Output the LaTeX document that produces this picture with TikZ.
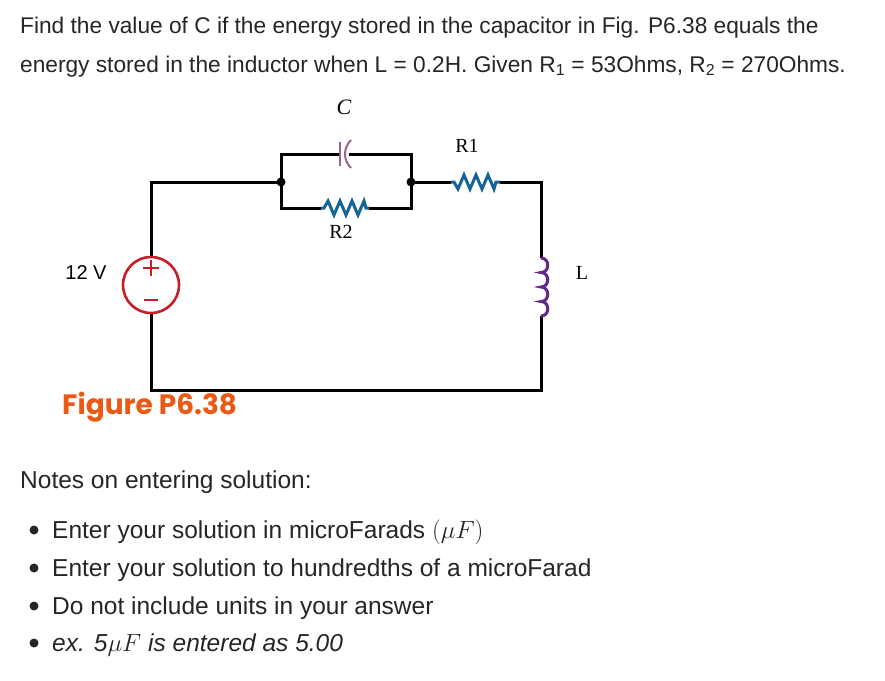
\documentclass[tikz,border=0pt]{standalone}
\usepackage{fontspec}
\setmainfont{Liberation Sans}
\newfontfamily\serifc{Liberation Serif}
\newfontfamily\figf{Poppins}
\begin{document}
\begin{tikzpicture}[x=1pt,y=-1pt,
  wire/.style={line width=3pt,black},
  res/.style={line width=3pt,color={rgb,255:red,20;green,100;blue,150},line join=miter},
  txt/.style={anchor=base west,inner sep=0,font=\fontsize{22.7}{26}\selectfont,text=black!85},
  ntxt/.style={anchor=base west,inner sep=0,font=\fontsize{24.5}{28}\selectfont,text=black!85},
  lab/.style={inner sep=0,font=\serifc\fontsize{20}{22}\selectfont}]
\useasboundingbox (0,0) rectangle (885,680);
\fill[white] (0,0) rectangle (885,680);
% text
\node[txt] (t1) at (20,33) {Find the value of C if the energy stored in the capacitor in Fig. P6.38 equals the};
\node[txt] (t2) at (20,72) {energy stored in the inductor when L = 0.2H. Given R\textsubscript{1} = 53Ohms, R\textsubscript{2} = 270Ohms.};
\node[ntxt] (n0) at (20,488) {Notes on entering solution:};
\foreach \y in {538,576,614,651}{\fill[black!85] (34,\y-8) circle (4.5);}
\node[ntxt] (b1) at (52,538) {Enter your solution in microFarads $(\mu F)$};
\node[ntxt] (b2) at (52,576) {Enter your solution to hundredths of a microFarad};
\node[ntxt] (b3) at (52,614) {Do not include units in your answer};
\node[ntxt] (b4) at (52,651) {\itshape ex. 5$\mu F$ is entered as 5.00};
\node[anchor=base west,inner sep=0,font=\figf\bfseries\fontsize{28}{32}\selectfont,text={rgb,255:red,235;green,90;blue,20}] (fig) at (62,414) {Figure P6.38};
% circuit
\coordinate (tl) at (151,182); \coordinate (bl) at (151,390);
\coordinate (tr) at (541,182); \coordinate (br) at (541,390);
\coordinate (na) at (281,182); \coordinate (nb) at (411,182);
\draw[wire] (151,257) -- (tl) -- (na) -- (281,154) -- (339,154);
\draw[wire] (349,154) -- (411,154) -- (nb);
\draw[wire] (na) -- (281,208) -- (321,208);
\draw[wire] (369,208) -- (411,208) -- (nb);
\draw[wire] (nb) -- (451,182);
\draw[wire] (500,182) -- (tr) -- (541,258);
\draw[wire] (541,316) -- (br) -- (bl) -- (151,313);
\fill (na) circle (4.5); \fill (nb) circle (4.5);
% R2
\draw[res] (321,208) -- (324,208) -- (328,201) -- (334,215) -- (340,201) -- (346,215) -- (352,201) -- (358,215) -- (364,201) -- (366,208) -- (369,208);
% R1
\draw[res] (451,182) -- (454,182) -- (458,189) -- (464,175) -- (470,189) -- (476,175) -- (482,189) -- (488,175) -- (494,189) -- (496,182) -- (500,182);
% capacitor
\draw[line width=2pt,color={rgb,255:red,150;green,100;blue,140}] (340,142) -- (340,166);
\draw[line width=2pt,color={rgb,255:red,150;green,100;blue,140}] (351,140) .. controls (343,148) and (343,160) .. (351,168);
% inductor
\draw[line width=3pt,color={rgb,255:red,100;green,40;blue,140}] (541,258)
  .. controls (550,258) and (550,272.5) .. (541,272.5)
  .. controls (550,272.5) and (550,287) .. (541,287)
  .. controls (550,287) and (550,301.5) .. (541,301.5)
  .. controls (550,301.5) and (550,316) .. (541,316);
% source
\draw[line width=2.6pt,color={rgb,255:red,200;green,30;blue,40}] (151,285) circle (28);
\draw[line width=1.8pt,color={rgb,255:red,200;green,30;blue,40}] (143,268) -- (159,268) (151,260) -- (151,276) (144,300) -- (158,300);
% labels
\node[lab,font=\serifc\itshape\fontsize{22}{24}\selectfont] (lc) at (344,107) {C};
\node[lab] (lr1) at (467,146) {R1};
\node[lab] (lr2) at (341,232) {R2};
\node[lab] (ll) at (582,273) {L};
\node[inner sep=0,font=\fontsize{20}{22}\selectfont] (lv) at (86,273) {12 V};
\end{tikzpicture}
\end{document}
